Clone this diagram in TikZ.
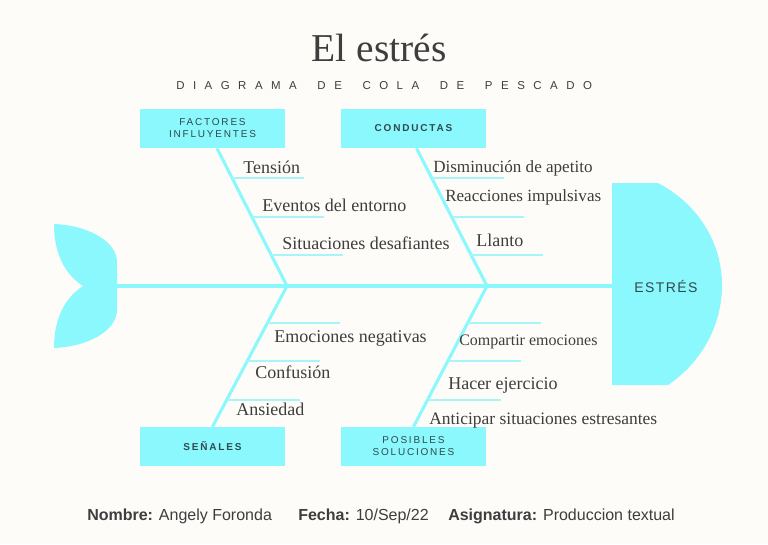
\documentclass[tikz,border=0pt]{standalone}
\usepackage{fontspec}
\setmainfont{Liberation Serif}
\setsansfont{Liberation Sans}
\usetikzlibrary{calc}
\definecolor{fishc}{HTML}{8AF8FC}
\definecolor{thinc}{HTML}{A6F5F9}
\definecolor{txt}{HTML}{3E3E3E}
\definecolor{boxt}{HTML}{2E4A4E}
\definecolor{bg}{HTML}{FDFCF9}
\newfontfamily\spacedsans[LetterSpace=18]{Liberation Sans}
\newfontfamily\widesans[LetterSpace=74]{Liberation Sans}
\newfontfamily\midsans[LetterSpace=10]{Liberation Sans}
\newcommand\wgap{\hspace{15.5pt}}
\begin{document}
\begin{tikzpicture}[x=0.75pt,y=-0.75pt,
  catbox/.style={fill=fishc, minimum width=108.75pt, minimum height=29.25pt, inner sep=0pt, align=center, text=boxt, font=\spacedsans\fontsize{7.5}{9}\selectfont},
  bone/.style={draw=fishc, line width=2.3pt, line join=miter},
  twig/.style={draw=thinc, line width=1.1pt},
  lbl/.style={anchor=base west, inner sep=0pt, text=txt, font=\fontsize{13.5}{16}\selectfont},
  foot/.style={anchor=base west, inner sep=0pt, text=txt, font=\sffamily\fontsize{12}{14}\selectfont},
]
\fill[bg] (0,0) rectangle (768,544);
\useasboundingbox (0,0) rectangle (768,544);

% title
\node[anchor=base, inner sep=0pt, text=txt, font=\fontsize{29.6}{34}\selectfont] (title) at (379,61) {El estrés};
\node[anchor=base west, inner sep=0pt, text=txt, font=\widesans\fontsize{8.6}{10}\selectfont] (sub) at (176,89) {DIAGRAMA\wgap DE\wgap COLA\wgap DE\wgap PESCADO};

% tail
\fill[fishc] (54,224) .. controls (85,225) and (117,240) .. (117,262) -- (117,310)
  .. controls (117,332) and (85,347) .. (54,348)
  .. controls (54,317) and (66,297) .. (83,286)
  .. controls (66,275) and (54,255) .. (54,224) -- cycle;
% head
\fill[fishc] (612,183) -- (658,183) .. controls (700,205) and (722,245) .. (722,285)
  .. controls (722,325) and (702,362) .. (668,385) -- (612,385) -- cycle;
\node[inner sep=0pt, text=boxt, font=\midsans\fontsize{10.5}{12}\selectfont] (head) at (666,286) {ESTRÉS};

\coordinate (tailr) at (115,286);
\coordinate (headl) at (613,286);
\coordinate (j1) at (287,286);
\coordinate (j2) at (487,286);

% spine
\draw[bone] (tailr) -- (headl);

% boxes
\node[catbox] (fi) at (212.5,128.5) {FACTORES\\INFLUYENTES};
\node[catbox, font=\spacedsans\bfseries\fontsize{7.5}{9}\selectfont] (co) at (413.5,128.5) {CONDUCTAS};
\node[catbox, font=\spacedsans\bfseries\fontsize{7.5}{9}\selectfont] (se) at (212.5,446.5) {SEÑALES};
\node[catbox] (ps) at (413.5,446.5) {POSIBLES\\SOLUCIONES};

% bones
\coordinate (fis) at ($(fi.south)+(4.5,0)$);
\coordinate (cos) at ($(co.south)+(3,0)$);
\draw[bone] (fis) -- (j1) -- (se.north);
\draw[bone] (cos) -- (j2) -- (ps.north);

% twigs upper left
\coordinate (a1) at ($(fis)!0.217!(j1)$);
\coordinate (a2) at ($(fis)!0.5!(j1)$);
\coordinate (a3) at ($(fis)!0.775!(j1)$);
\draw[twig] (a1) -- ++(72,0);
\draw[twig] (a2) -- ++(72,0);
\draw[twig] (a3) -- ++(72,0);
% upper right
\coordinate (b1) at ($(cos)!0.217!(j2)$);
\coordinate (b2) at ($(cos)!0.5!(j2)$);
\coordinate (b3) at ($(cos)!0.775!(j2)$);
\draw[twig] (b1) -- ++(72,0);
\draw[twig] (b2) -- ++(72,0);
\draw[twig] (b3) -- ++(72,0);
% lower left
\coordinate (c1) at ($(j1)!0.262!(se.north)$);
\coordinate (c2) at ($(j1)!0.532!(se.north)$);
\coordinate (c3) at ($(j1)!0.809!(se.north)$);
\draw[twig] (c1) -- ++(73,0);
\draw[twig] (c2) -- ++(73,0);
\draw[twig] (c3) -- ++(73,0);
% lower right
\coordinate (d1) at ($(j2)!0.262!(ps.north)$);
\coordinate (d2) at ($(j2)!0.532!(ps.north)$);
\coordinate (d3) at ($(j2)!0.809!(ps.north)$);
\draw[twig] (d1) -- ++(73,0);
\draw[twig] (d2) -- ++(73,0);
\draw[twig] (d3) -- ++(73,0);

% labels
\node[lbl] (t1) at (243,173) {Tensión};
\node[lbl] (t2) at (262,211) {Eventos del entorno};
\node[lbl] (t3) at (282,249) {Situaciones desafiantes};
\node[lbl, font=\fontsize{12.8}{15}\selectfont] (t4) at (433,172) {Disminución de apetito};
\node[lbl, font=\fontsize{12.8}{15}\selectfont] (t5) at (445,201) {Reacciones impulsivas};
\node[lbl] (t6) at (476,246) {Llanto};
\node[lbl] (t7) at (274,342) {Emociones negativas};
\node[lbl] (t8) at (255,378) {Confusión};
\node[lbl] (t9) at (236,415) {Ansiedad};
\node[lbl, font=\fontsize{12}{14}\selectfont] (t10) at (459,345) {Compartir emociones};
\node[lbl] (t11) at (448,389) {Hacer ejercicio};
\node[lbl, font=\fontsize{13.1}{15}\selectfont] (t12) at (429,424) {Anticipar situaciones estresantes};

% footer
\node[foot] (f1) at (87,520) {\textbf{Nombre:} Angely Foronda};
\node[foot] (f2) at (298,520) {\textbf{Fecha:} 10/Sep/22};
\node[foot] (f3) at (448,520) {\textbf{Asignatura:} Produccion textual};
\end{tikzpicture}
\end{document}
